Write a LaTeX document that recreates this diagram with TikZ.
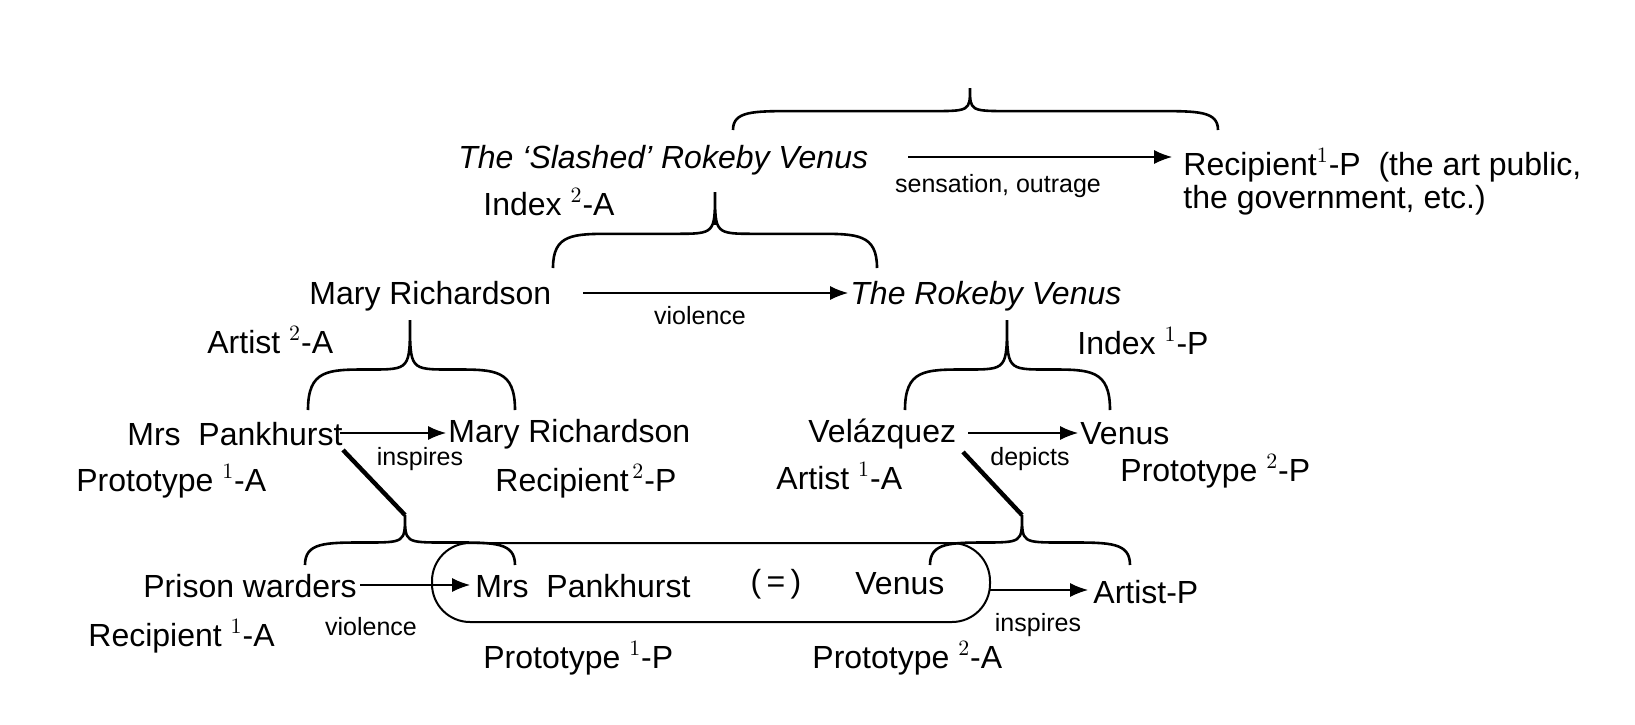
\documentclass[tikz,border=0pt]{standalone}
\usepackage{fontspec}
\setmainfont{Liberation Sans}
\usetikzlibrary{arrows.meta}
\newcommand\mybrace[5]{%
  \draw[brace] (#1,#5) .. controls (#1,{#4+0.55*(#5-#4)}) and ({#1+20},{#4+0.55*(#5-#4)}) .. ({#1+60},{#4+0.55*(#5-#4)})
    -- ({#3-40},{#4+0.55*(#5-#4)}) .. controls (#3,{#4+0.55*(#5-#4)}) .. (#3,#4)
    .. controls (#3,{#4+0.55*(#5-#4)}) .. ({#3+40},{#4+0.55*(#5-#4)})
    -- ({#2-60},{#4+0.55*(#5-#4)}) .. controls ({#2-20},{#4+0.55*(#5-#4)}) and (#2,{#4+0.55*(#5-#4)}) .. (#2,#5);}
\begin{document}
\begin{tikzpicture}[x=0.5pt,y=-0.5pt,
  lab/.style={font=\fontsize{16}{18}\selectfont, inner sep=0pt},
  it/.style={lab, font=\fontsize{16}{18}\selectfont\itshape},
  sm/.style={font=\fontsize{12.5}{14}\selectfont, inner sep=0pt},
  arr/.style={-{Latex[length=9pt,width=7pt]}, line width=0.6pt},
  brace/.style={line width=1.3pt},
  thick line/.style={line width=2.2pt}]
% top
\node[it,anchor=west] (slashed) at (458,160) {The `Slashed' Rokeby Venus};
\node[lab,anchor=west] (idx2) at (483,202) {Index $^{2}$-A};
\node[lab,anchor=west] (rec1p) at (1183,165) {Recipient$^{1}$-P\ \ (the art public,};
\node[lab,anchor=west] (gov) at (1183,200) {the government, etc.)};
\coordinate (a1s) at (908,157); \coordinate (a1e) at (1172,157);
\draw[arr] (a1s) -- (a1e);
\node[sm] (sens) at (998,186) {sensation, outrage};
\mybrace{733}{1218}{970}{88}{130}
% second level
\mybrace{553}{877}{715}{192}{268}
\draw[brace] (715,192) -- (715,225);
\node[lab,anchor=west] (mary) at (309,296) {Mary Richardson};
\node[it,anchor=west] (rokeby) at (850,296) {The Rokeby Venus};
\coordinate (a2s) at (583,293); \coordinate (a2e) at (848,293);
\draw[arr] (a2s) -- (a2e);
\node[sm] (viol1) at (700,316) {violence};
\node[lab,anchor=west] (art2a) at (207,340) {Artist $^{2}$-A};
\node[lab,anchor=west] (idx1p) at (1077,341) {Index $^{1}$-P};
\mybrace{308}{515}{410}{320}{410}
\draw[brace] (410,320) -- (410,350);
\mybrace{905}{1110}{1007}{320}{410}
\draw[brace] (1007,320) -- (1007,350);
% third level
\node[lab,anchor=west] (pank) at (127,434) {Mrs\ \ Pankhurst};
\node[lab,anchor=west] (mary2) at (448,434) {Mary Richardson};
\coordinate (a3s) at (340,433); \coordinate (a3e) at (446,433);
\draw[arr] (a3s) -- (a3e);
\node[sm] (insp1) at (420,459) {inspires};
\node[lab,anchor=west] (proto1a) at (76,481) {Prototype $^{1}$-A};
\node[lab,anchor=west] (rec2p) at (495,481) {Recipient$^{\,2}$-P};
\node[lab,anchor=west] (velaz) at (808,434) {Velázquez};
\node[lab,anchor=west] (venus1) at (1080,434) {Venus};
\coordinate (a4s) at (968,433); \coordinate (a4e) at (1078,433);
\draw[arr] (a4s) -- (a4e);
\node[sm] (dep) at (1030,459) {depicts};
\node[lab,anchor=west] (art1a) at (776,476) {Artist $^{1}$-A};
\node[lab,anchor=west] (proto2p) at (1120,471) {Prototype $^{2}$-P};
% diagonals and lower braces
\draw[thick line] (343,450) -- (405,515);
\draw[thick line] (963,452) -- (1022,515);
\mybrace{305}{515}{405}{515}{565}
\mybrace{930}{1130}{1022}{515}{565}
\draw[line width=1pt, rounded corners=19pt] (432,543) rectangle (990,622);
% bottom
\node[lab,anchor=west] (prison) at (143,586) {Prison warders};
\node[lab,anchor=west] (pank2) at (475,586) {Mrs\ \ Pankhurst};
\node[lab] (eq) at (776,584) {(\,=\,)};
\node[lab,anchor=west] (venus2) at (855,584) {Venus};
\node[lab,anchor=west] (artp) at (1093,592) {Artist-P};
\coordinate (a5s) at (360,585); \coordinate (a5e) at (470,585);
\draw[arr] (a5s) -- (a5e);
\coordinate (a6s) at (990,590); \coordinate (a6e) at (1088,590);
\draw[arr] (a6s) -- (a6e);
\node[lab,anchor=west] (rec1a) at (88,636) {Recipient $^{1}$-A};
\node[sm] (viol2) at (371,627) {violence};
\node[sm] (insp2) at (1038,625) {inspires};
\node[lab,anchor=west] (proto1p) at (483,658) {Prototype $^{1}$-P};
\node[lab,anchor=west] (proto2a) at (812,658) {Prototype $^{2}$-A};
\pgfresetboundingbox
\useasboundingbox (0,0) rectangle (1635,724);
\end{tikzpicture}
\end{document}
